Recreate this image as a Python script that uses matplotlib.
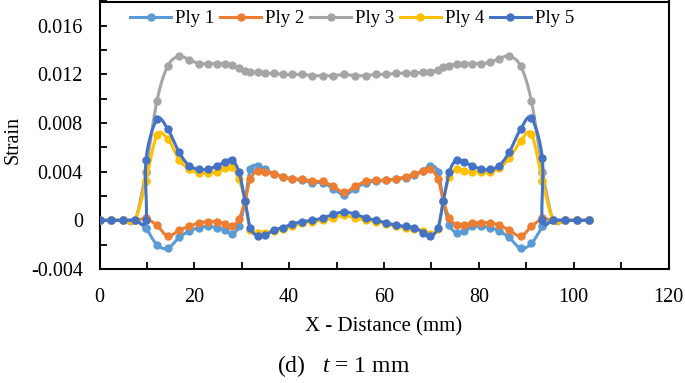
import numpy as np
import matplotlib
matplotlib.use("Agg")
import matplotlib.pyplot as plt
from matplotlib.lines import Line2D

plt.rcParams['font.family'] = ['Liberation Serif', 'DejaVu Serif']
plt.rcParams['mathtext.fontset'] = 'custom'
plt.rcParams['mathtext.it'] = 'Liberation Serif:italic'
plt.rcParams['mathtext.rm'] = 'Liberation Serif'

# Nodes along the specimen (mm); the ply-drop nodes at 9.8 and 93.4 appear twice
x_nodes = [0, 2.5, 5.0, 7.5, 9.8, 9.8, 12.1, 14.4, 16.8, 18.9, 21.0, 22.9, 24.8,
           26.5, 27.9, 29.4, 30.7, 31.8, 33.4, 35.0, 36.8, 38.6, 40.7, 42.8, 44.9,
           47.1, 49.3, 51.6, 53.9, 56.1, 58.3, 60.5, 62.5, 64.6, 66.4, 68.3, 69.8,
           71.4, 72.5, 73.8, 75.3, 76.8, 78.6, 80.5, 82.4, 84.3, 86.4, 88.8, 91.1,
           93.4, 93.4, 95.7, 98.2, 100.7, 103.2]

ply1 = [0, 0, 0, 0, -0.0006, -0.0006, -0.0020, -0.0023, -0.0014, -0.0009, -0.0006,
        -0.0005, -0.0006, -0.0008, -0.0011, -0.0005, 0.0016, 0.0042, 0.0045, 0.0042,
        0.0038, 0.0036, 0.0034, 0.0033, 0.0031, 0.0031, 0.0026, 0.0021, 0.0026,
        0.0031, 0.0032, 0.0033, 0.0034, 0.0035, 0.0037, 0.0041, 0.0045, 0.0040,
        0.0016, -0.0004, -0.0010, -0.0009, -0.0005, -0.0005, -0.0006, -0.0009,
        -0.0014, -0.0023, -0.0019, -0.0005, -0.0005, 0, 0, 0, 0]
ply2 = [0, 0, 0, 0, 0.0002, 0.0002, -0.0004, -0.0013, -0.0008, -0.0005, -0.0002,
        -0.0001, -0.0001, -0.0003, -0.0005, 0.0001, 0.0016, 0.0034, 0.0041, 0.0040,
        0.0038, 0.0036, 0.0034, 0.0034, 0.0032, 0.0032, 0.0028, 0.0023, 0.0028,
        0.0032, 0.0033, 0.0033, 0.0034, 0.0036, 0.0038, 0.0041, 0.0042, 0.0034,
        0.0016, 0.0002, -0.0004, -0.0004, -0.0002, -0.0002, -0.0002, -0.0004,
        -0.0008, -0.0013, -0.0005, 0.0002, 0.0002, 0, 0, 0, 0]
ply3 = [0, 0, 0, 0, 0.0040, 0.0040, 0.0098, 0.0127, 0.0135, 0.0132, 0.0129, 0.0129,
        0.0129, 0.0129, 0.0128, 0.0125, 0.0123, 0.0122, 0.0122, 0.0121, 0.0121,
        0.0120, 0.0120, 0.0120, 0.0119, 0.0119, 0.0119, 0.0120, 0.0119, 0.0119,
        0.0120, 0.0120, 0.0121, 0.0121, 0.0121, 0.0122, 0.0122, 0.0124, 0.0126,
        0.0127, 0.0129, 0.0129, 0.0129, 0.0129, 0.0130, 0.0133, 0.0135, 0.0127,
        0.0098, 0.0040, 0.0040, 0, 0, 0, 0]
ply4 = [0, 0, 0, 0, 0.0032, 0.0032, 0.0070, 0.0067, 0.0050, 0.0042, 0.0039, 0.0039,
        0.0040, 0.0043, 0.0044, 0.0034, 0.0016, -0.0008, -0.0010, -0.0010, -0.0009,
        -0.0007, -0.0005, -0.0002, -0.0001, 0.0000, 0.0002, 0.0004, 0.0002, 0.0000,
        -0.0001, -0.0003, -0.0005, -0.0006, -0.0007, -0.0009, -0.0011, -0.0007,
        0.0016, 0.0036, 0.0042, 0.0041, 0.0040, 0.0040, 0.0040, 0.0043, 0.0051,
        0.0065, 0.0071, 0.0032, 0.0032, 0, 0, 0, 0]
ply5 = [0, 0, 0, 0, 0, 0.0050, 0.0083, 0.0075, 0.0056, 0.0045, 0.0042, 0.0042,
        0.0045, 0.0048, 0.0050, 0.0040, 0.0016, -0.0006, -0.0013, -0.0012, -0.0008,
        -0.0006, -0.0003, -0.0001, 0.0000, 0.0002, 0.0005, 0.0007, 0.0005, 0.0002,
        0.0000, -0.0002, -0.0004, -0.0005, -0.0006, -0.0010, -0.0013, -0.0006,
        0.0016, 0.0040, 0.0050, 0.0048, 0.0045, 0.0042, 0.0042, 0.0045, 0.0056,
        0.0075, 0.0084, 0.0051, 0, 0, 0, 0, 0]

labels = ["Ply 1", "Ply 2", "Ply 3", "Ply 4", "Ply 5"]
colors = ["#5B9BD5", "#ED7D31", "#A5A5A5", "#FFC000", "#4472C4"]


def smooth(x, y, n=16):
    # Excel-like smoothed line: cubic Bezier through every point
    p = np.column_stack([x, y]).astype(float)
    pp = np.vstack([p[0], p, p[-1]])
    t = np.linspace(0, 1, n, endpoint=False)[:, None]
    out = []
    for i in range(len(p) - 1):
        p0, p1, p2, p3 = pp[i], pp[i + 1], pp[i + 2], pp[i + 3]
        c1 = p1 + (p2 - p0) / 6
        c2 = p2 - (p3 - p1) / 6
        seg = ((1 - t) ** 3) * p1 + 3 * ((1 - t) ** 2) * t * c1 \
            + 3 * (1 - t) * t ** 2 * c2 + t ** 3 * p2
        out.append(seg)
    out.append(p[-1:])
    out = np.vstack(out)
    return out[:, 0], out[:, 1]


fig = plt.figure(figsize=(6.85, 3.83), dpi=100)
ax = fig.add_axes([99.5 / 685, 1 - 269 / 383, 569 / 685, 267.5 / 383])

handles = []
for i, ys in enumerate([ply1, ply2, ply3, ply4, ply5]):
    sx, sy = smooth(x_nodes, ys)
    ax.plot(sx, sy, color=colors[i], lw=2.2, zorder=2 + i)
    ax.plot(x_nodes, ys, 'o', color=colors[i], ms=5, zorder=2 + i)
    handles.append(Line2D([], [], color=colors[i], lw=2.2, marker='o', ms=5))

ax.set_xlim(0, 120)
ax.set_ylim(-0.004, 0.018)
ax.set_xticks([0, 20, 40, 60, 80, 100, 120])
ax.set_xticks(np.arange(0, 121, 10), minor=True)
ax.set_yticks([-0.004, 0, 0.004, 0.008, 0.012, 0.016])
ax.set_yticklabels(["-0.004", "0", "0.004", "0.008", "0.012", "0.016"])
ax.set_yticks(np.arange(-0.004, 0.0181, 0.002), minor=True)
ax.tick_params(which='both', direction='in', length=5, width=1.3, labelsize=14.5)
ax.tick_params(axis='x', pad=14)
ax.tick_params(axis='y', pad=12)
for s in ax.spines.values():
    s.set_linewidth(1.5)

ax.set_xlabel("X - Distance (mm)", fontsize=15, labelpad=7)
fig.text(13 / 685, 1 - 140 / 383, "Strain", fontsize=14.5, rotation=90,
         ha='center', va='center')

fig.legend(handles, labels, loc='upper center', bbox_to_anchor=(352 / 685, 1.018),
           ncol=5, frameon=False, fontsize=13.5, handlelength=2.2,
           handletextpad=0.2, columnspacing=0.3)

fig.text(344 / 685, 1 - 366 / 383, r"(d)   $t$ = 1 mm", fontsize=17,
         ha='center', va='center')

fig.savefig("out.png", dpi=100)
